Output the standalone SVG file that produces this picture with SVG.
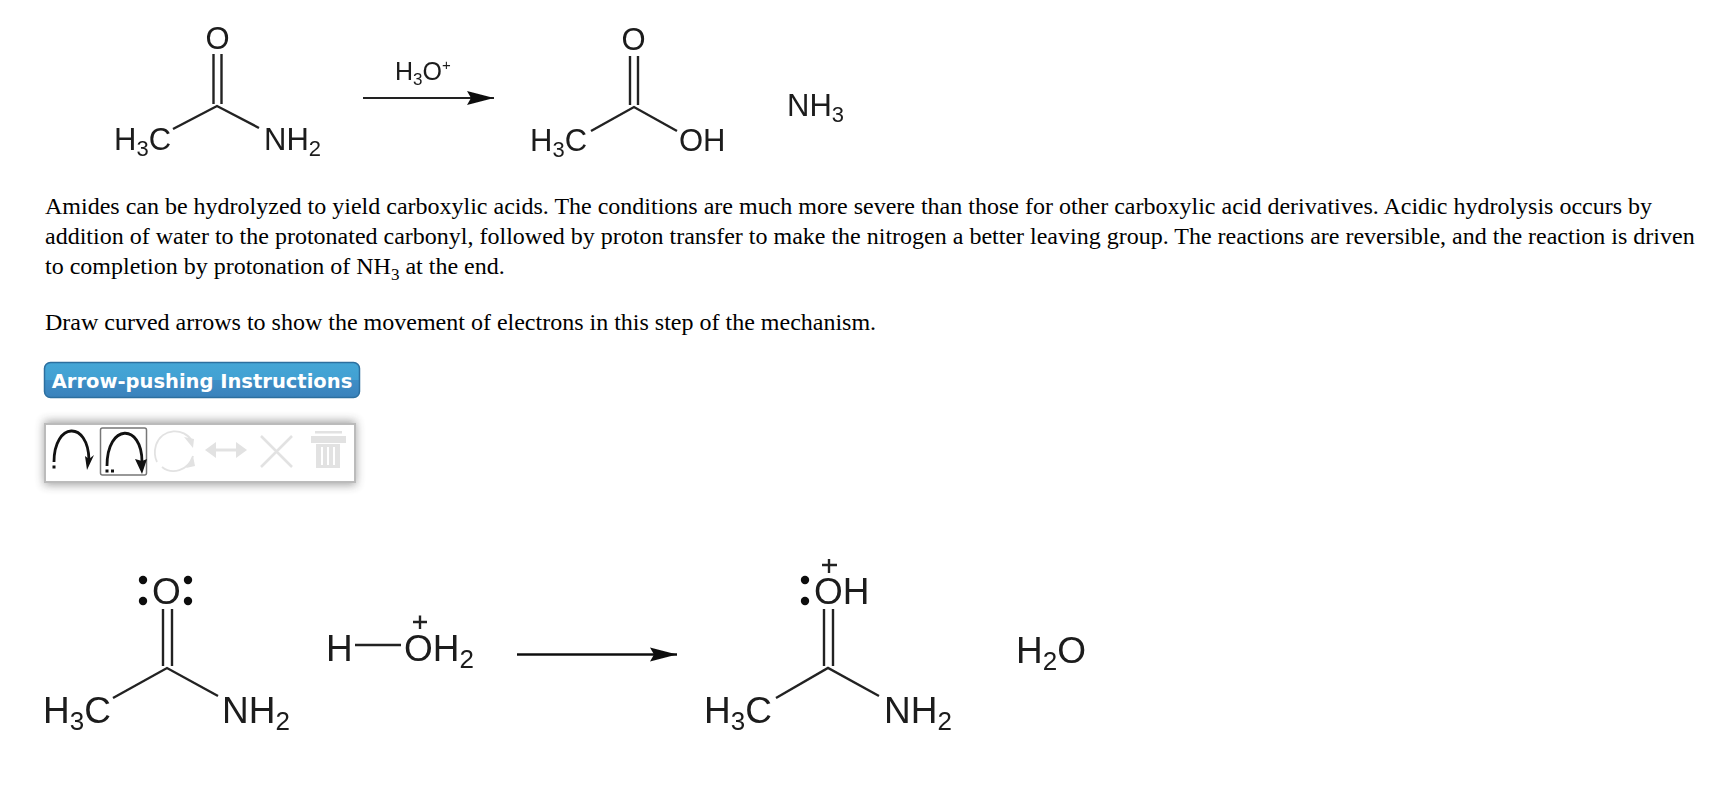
<svg xmlns="http://www.w3.org/2000/svg" width="1726" height="794" viewBox="0 0 1726 794">
<style>
.m{filter:url(#soft)}
.c{font-family:"Liberation Sans",Arial,sans-serif;font-size:31px;fill:#1a1a1a}
.d{font-size:37px}
.s{font-size:22px}
.u{font-size:26px}
.t{font-size:25px}
.p{font-family:"Liberation Serif","Times New Roman",serif;font-size:24px;fill:#000}
.b{stroke:#222;stroke-width:2.400;fill:none}
.g{stroke:#e2e2e2;fill:none}
.k{fill:#111}
</style>
<defs>
<marker id="ah" markerUnits="userSpaceOnUse" markerWidth="30" markerHeight="16" refX="27" refY="8" orient="auto"><path d="M0 1L27 8L0 15L4 8Z" fill="#111"/></marker>
<linearGradient id="btn" x1="0" y1="0" x2="0" y2="1"><stop offset="0" stop-color="#44a6d6"/><stop offset=".5" stop-color="#42a0d2"/><stop offset=".5" stop-color="#3e8ec6"/><stop offset="1" stop-color="#3a82bc"/></linearGradient>
<filter id="sh" x="-10%" y="-40%" width="120%" height="180%"><feGaussianBlur stdDeviation="5"/></filter>
<filter id="soft" x="-5%" y="-5%" width="110%" height="110%"><feGaussianBlur stdDeviation="0.45"/></filter>
</defs>
<rect width="1726" height="794" fill="#fff"/>
<g id="connectors" class="m">
<path class="b" d="M173 129L217 106L259 128M213.500 104V54M221.500 104V54"/>
<path class="b" d="M591 131L634 107L677 131M630 105V56M638 105V56"/>
<path class="b" d="M113 698L167 668L218 696M163 666V609M172 666V609"/>
<path class="b" d="M776 698L828 668L879 696M824 666V609M833 666V609"/>
<path class="b" d="M355 645H401"/>
<path d="M363 98H494" stroke="#222" stroke-width="2" marker-end="url(#ah)"/>
<path d="M517 654.500H677" stroke="#111" stroke-width="2.400" marker-end="url(#ah)"/>
</g>
<g id="amide-1" class="m">
<text class="c" x="205.500" y="49">O</text>
<text class="c" x="114" y="150">H<tspan class="s" dy="6">3</tspan><tspan dy="-6">C</tspan></text>
<text class="c" x="264" y="150">NH<tspan class="s" dy="6">2</tspan></text>
</g>
<g id="reagent" class="m">
<text class="c t" x="395" y="80">H<tspan style="font-size:17px" dy="5">3</tspan><tspan dy="-5">O</tspan><tspan style="font-size:15px" dy="-10">+</tspan></text>
</g>
<g id="acid" class="m">
<text class="c" x="621.500" y="50">O</text>
<text class="c" x="530" y="151">H<tspan class="s" dy="6">3</tspan><tspan dy="-6">C</tspan></text>
<text class="c" x="679" y="151">OH</text>
</g>
<g id="ammonia" class="m">
<text class="c" x="787" y="116">NH<tspan class="s" dy="6">3</tspan></text>
</g>
<g id="description">
<text class="p" x="45" y="214">Amides can be hydrolyzed to yield carboxylic acids. The conditions are much more severe than those for other carboxylic acid derivatives. Acidic hydrolysis occurs by</text>
<text class="p" x="45" y="244">addition of water to the protonated carbonyl, followed by proton transfer to make the nitrogen a better leaving group. The reactions are reversible, and the reaction is driven</text>
<text class="p" x="45" y="274">to completion by protonation of NH<tspan style="font-size:17px" dy="6">3</tspan><tspan dy="-6"> at the end.</tspan></text>
<text class="p" x="45" y="330">Draw curved arrows to show the movement of electrons in this step of the mechanism.</text>
</g>
<g id="instructions-button">
<rect x="44.500" y="362.500" width="315" height="35" rx="6" fill="url(#btn)" stroke="#2c6f9f" stroke-width="1.500"/>
<text x="202" y="388" text-anchor="middle" font-family="'DejaVu Sans',Verdana,sans-serif" font-weight="700" font-size="19.500px" fill="#fff">Arrow-pushing Instructions</text>
</g>
<g id="toolbar">
<rect x="44" y="421" width="312" height="64" fill="#333" opacity=".45" filter="url(#sh)"/>
<rect x="45" y="424" width="310" height="58" fill="#fff" stroke="#bbb" stroke-width="2"/>
<rect x="100.500" y="428" width="46" height="47" rx="2" fill="#fff" stroke="#777" stroke-width="1.500"/>
<path d="M54 462C54 422 88 420 89 460" fill="none" stroke="#111" stroke-width="2.800"/>
<path d="M85 456L89 459L94 455L87 470Z" class="k"/><rect x="52.500" y="465.500" width="3" height="3" class="k"/>
<path d="M107 466C107 423 142 423 142 462" fill="none" stroke="#111" stroke-width="2.800"/>
<path d="M135 459L142 461L147 459L142 474Z" class="k"/><rect x="105.500" y="469.500" width="3" height="3" class="k"/><rect x="111" y="469.500" width="3" height="3" class="k"/>
<path class="g" stroke-width="1.800" d="M192 441C184 427 162 428 156 445C154 452 155 458 157 462"/>
<path class="g" stroke-width="1.800" d="M162 467C172 475 188 471 193 456"/>
<path d="M184 437L194 439L193 448ZM186 468L193 456L195 466Z" fill="#e2e2e2"/>
<path class="g" stroke-width="3" d="M212 450H241"/>
<path d="M205 450L216 442V458ZM247 450L236 442V458Z" fill="#e2e2e2"/>
<path class="g" stroke-width="2.500" d="M261 436L292 467M292 436L261 467"/>
<path d="M315 431H342V433.500H315ZM311 436H346V443H311ZM316 444H340V468H316Z" fill="#e2e2e2"/>
<path d="M322 447V465M328 447V465M334 447V465" stroke="#fff" stroke-width="2"/>
</g>
<g id="amide-2" class="m">
<circle cx="143" cy="580" r="4.200" class="k"/><circle cx="143" cy="601" r="4.200" class="k"/><circle cx="188" cy="580" r="4.200" class="k"/><circle cx="188" cy="601" r="4.200" class="k"/>
<text class="c d" x="152" y="604">O</text>
<text class="c d" x="43" y="723">H<tspan class="u" dy="7">3</tspan><tspan dy="-7">C</tspan></text>
<text class="c d" x="222" y="723">NH<tspan class="u" dy="7">2</tspan></text>
</g>
<g id="hydronium" class="m">
<path class="b" d="M420 615.500V629M413 622H427" stroke-width="2"/>
<text class="c d" x="326" y="661">H</text>
<text class="c d" x="404" y="661">OH<tspan class="u" dy="7">2</tspan></text>
</g>
<g id="protonated-amide" class="m">
<circle cx="805" cy="580" r="4.200" class="k"/><circle cx="805" cy="601" r="4.200" class="k"/>
<path class="b" d="M829 559V573M822 565H837" stroke-width="2"/>
<text class="c d" x="814" y="604">OH</text>
<text class="c d" x="704" y="723">H<tspan class="u" dy="7">3</tspan><tspan dy="-7">C</tspan></text>
<text class="c d" x="884" y="723">NH<tspan class="u" dy="7">2</tspan></text>
</g>
<g id="water" class="m">
<text class="c d" x="1016" y="663">H<tspan class="u" dy="7">2</tspan><tspan dy="-7">O</tspan></text>
</g>
</svg>
